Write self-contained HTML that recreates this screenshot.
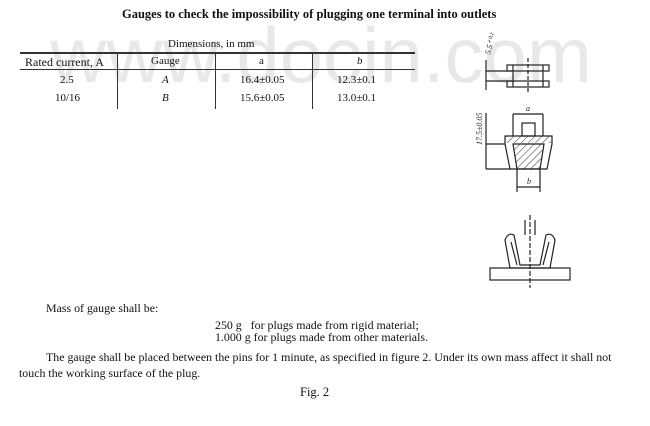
<!DOCTYPE html>
<html><head><meta charset="utf-8"><style>
body{margin:0;width:650px;height:426px;background:#fff;position:relative;overflow:hidden;font-family:"Liberation Serif",serif;color:#111}
.t{position:absolute;white-space:nowrap;font-size:11px}
.b{font-size:11.9px}
.wm{position:absolute;font-family:"Liberation Sans",sans-serif;color:#e8e8e8;font-size:78px;white-space:nowrap;letter-spacing:0px}
.hl{position:absolute;background:#333;height:1px}
.vl{position:absolute;background:#333;width:1px}
</style></head><body>
<div class="wm" style="left:50px;top:10px">www.docin.com</div>
<div class="t" style="left:122px;top:7px;font-size:12.5px;font-weight:bold">Gauges to check the impossibility of plugging one terminal into outlets</div>
<div class="t" style="left:168px;top:38px">Dimensions, in mm</div>
<div class="hl" style="left:20px;top:52px;width:395px;height:2px"></div>
<div class="hl" style="left:20px;top:69px;width:395px;height:1px"></div>
<div class="vl" style="left:117px;top:53px;height:56px"></div>
<div class="vl" style="left:215px;top:53px;height:56px"></div>
<div class="vl" style="left:312px;top:53px;height:56px"></div>
<div class="t" style="left:25px;top:55px;font-size:12px">Rated current, A</div>
<div class="t" style="left:151px;top:55px">Gauge</div>
<div class="t" style="left:259px;top:55px">a</div>
<div class="t" style="left:357px;top:55px;font-style:italic">b</div>
<div class="t" style="left:60px;top:74px">2.5</div>
<div class="t" style="left:162px;top:74px;font-style:italic">A</div>
<div class="t" style="left:240px;top:74px">16.4±0.05</div>
<div class="t" style="left:337px;top:74px">12.3±0.1</div>
<div class="t" style="left:55px;top:92px">10/16</div>
<div class="t" style="left:162px;top:92px;font-style:italic">B</div>
<div class="t" style="left:240px;top:92px">15.6±0.05</div>
<div class="t" style="left:337px;top:92px">13.0±0.1</div>
<svg style="position:absolute;left:450px;top:30px" width="200" height="260" viewBox="0 0 200 260" fill="none" stroke="#222" stroke-width="1.2">
<defs><pattern id="h" width="5" height="5" patternUnits="userSpaceOnUse" patternTransform="rotate(45)"><line x1="0" y1="0" x2="0" y2="5" stroke="#333" stroke-width="1"/></pattern></defs>
<text x="40" y="25" font-size="8" fill="#222" stroke="none" transform="rotate(-75 40 25)" font-style="italic">5.5⁺⁰·²</text>
<line x1="36" y1="30" x2="36" y2="60"/>
<rect x="57" y="35" width="42" height="6"/><rect x="57" y="51" width="42" height="6"/>
<line x1="63" y1="35" x2="63" y2="57"/><line x1="93" y1="35" x2="93" y2="57"/>
<line x1="36" y1="41" x2="63" y2="41"/><line x1="36" y1="51" x2="63" y2="51"/>
<line x1="78" y1="28" x2="78" y2="62" stroke-dasharray="4 2"/>
<text x="32" y="115" font-size="8" fill="#222" stroke="none" transform="rotate(-90 32 115)" font-style="italic">17.5±0.05</text>
<line x1="36" y1="83" x2="36" y2="139"/>
<line x1="63" y1="84" x2="93" y2="84"/><text x="76" y="81" font-size="8" fill="#222" stroke="none" font-style="italic">a</text>
<line x1="63" y1="84" x2="63" y2="106"/><line x1="93" y1="84" x2="93" y2="106"/>
<rect x="72" y="93" width="13" height="13"/>
<path d="M55 106 H102 V114 L97 139 H60 L55 114 Z"/>
<path d="M56 106 H101 V113 H56 Z" fill="url(#h)" stroke="none"/>
<path d="M63 114 H94 L90 139 H67 Z" fill="url(#h)"/>
<line x1="36" y1="114" x2="55" y2="114"/><line x1="36" y1="139" x2="60" y2="139"/>
<line x1="67" y1="139" x2="67" y2="162"/><line x1="90" y1="139" x2="90" y2="162"/>
<line x1="67" y1="157" x2="90" y2="157"/><text x="77" y="154" font-size="8" fill="#222" stroke="none" font-style="italic">b</text>
<line x1="80" y1="185" x2="80" y2="258" stroke-dasharray="5 2"/>
<line x1="75" y1="190" x2="75" y2="205"/><line x1="85" y1="190" x2="85" y2="205"/>
<path d="M55 210 Q58 202 64 205 L70 235 H90 L96 205 Q102 202 105 210 L100 238 H60 Z"/>
<path d="M61 212 L67 235 M99 212 L93 235"/>
<rect x="40" y="238" width="80" height="12"/>
</svg>
<div class="t b" style="left:46px;top:301px">Mass of gauge shall be:</div>
<div class="t b" style="left:215px;top:318px">250 g &nbsp;&nbsp;for plugs made from rigid material;</div>
<div class="t b" style="left:215px;top:330px">1.000 g for plugs made from other materials.</div>
<div class="t b" style="left:46px;top:350px">The gauge shall be placed between the pins for 1 minute, as specified in figure 2. Under its own mass affect it shall not</div>
<div class="t b" style="left:19px;top:366px">touch the working surface of the plug.</div>
<div class="t" style="left:300px;top:385px;font-size:12.5px">Fig. 2</div>
</body></html>
